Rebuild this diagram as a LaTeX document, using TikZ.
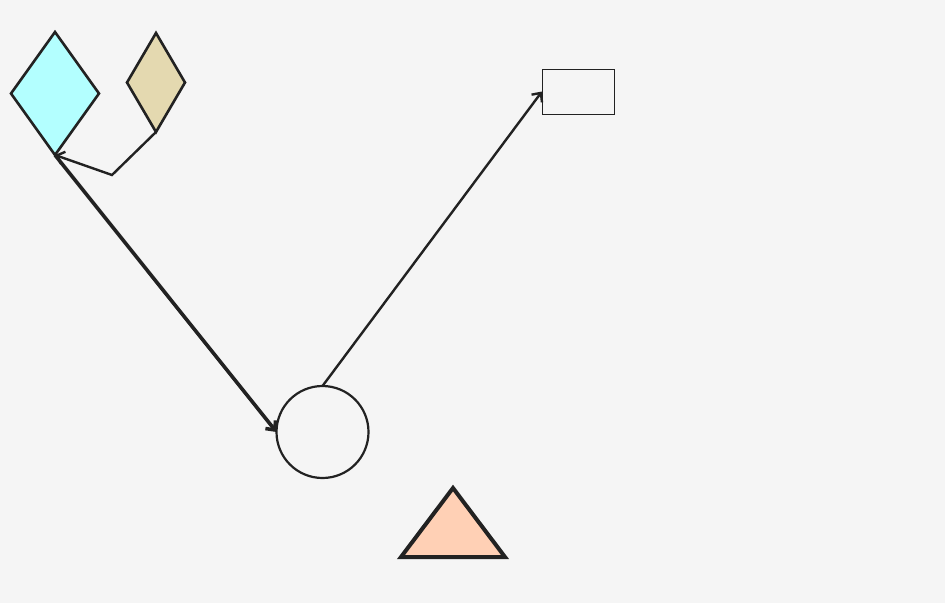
\documentclass[tikz,border=0pt]{standalone}
\usepackage[HTML]{xcolor}
\usetikzlibrary{positioning, arrows, arrows.meta, shapes.geometric}

\definecolor{bgcol}{HTML}{F5F5F5}
\definecolor{inkcol}{HTML}{222222}
\definecolor{cyancol}{HTML}{B3FFFF}
\definecolor{tancol}{HTML}{E4D9B0}
\definecolor{peachcol}{HTML}{FFD0B5}

\tikzset{
  kite/.style={diamond, draw=inkcol, line width=2.6pt, inner sep=0pt, outer sep=0pt},
  ring/.style={circle, draw=inkcol, line width=2.2pt, inner sep=0pt, outer sep=0pt, minimum size=92pt},
  plainbox/.style={rectangle, draw=inkcol, line width=1pt, inner sep=0pt, outer sep=0pt},
  link/.style={draw=inkcol, line width=2.4pt, -{Straight Barb[length=7pt,width=13pt]}}
}

\begin{document}
\begin{tikzpicture}[x=1pt,y=-1pt]
% canvas
\fill[bgcol] (0,0) rectangle (945,603);
\useasboundingbox (0,0) rectangle (945,603);
% kites
\node[kite, fill=cyancol, minimum width=88pt, minimum height=123pt] (bigkite) at (55,93.5) {};
\node[kite, fill=tancol, minimum width=58pt, minimum height=99pt] (smallkite) at (156,82.5) {};
% ring and box
\node[ring] (ring) at (322.5,432) {};
\node[plainbox, minimum width=72pt, minimum height=45pt] (box) at (578,91.5) {};
% triangle (indicative)
\draw[inkcol, fill=peachcol, line width=4pt, line join=miter] (453,488) -- (505,557) -- (401,557) -- cycle;
% connectors
\coordinate (elbow) at (112,175);
\draw[link] (smallkite.south) -- (elbow) -- (bigkite.south);
\draw[link, line width=3.6pt] (bigkite.south) -- (ring.west);
\draw[link] (ring.north) -- (box.west);
\end{tikzpicture}
\end{document}
